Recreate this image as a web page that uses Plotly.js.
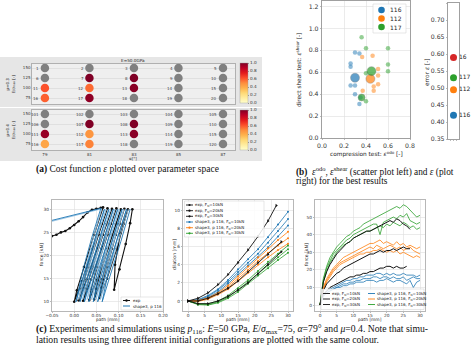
<!DOCTYPE html>
<html><head><meta charset="utf-8">
<script src="https://cdn.plot.ly/plotly-3.0.1.min.js"></script>
<style>html,body{margin:0;padding:0;background:#fff}#chart{width:474px;height:347px}</style>
</head><body><div id="chart"></div>
<script>
// ---------- DATA ----------
// panel (a)
const aAlpha = [79, 81, 83, 85, 87];
const aRatio = [150, 125, 100, 75];
const upperIds = [[1,2,3,4,5],[6,7,8,9,10],[11,12,13,14,15],[16,17,18,19,20]];
const lowerIds = [[101,102,103,104,105],[106,107,108,109,110],[111,112,113,114,115],[116,117,118,119,120]];
const upperErr = [[null,null,null,null,null],[null,1.0,1.0,null,null],[0.62,0.57,0.98,null,null],[0.59,0.97,null,null,null]];
const lowerErr = [[null,null,null,null,null],[null,1.0,1.0,null,null],[0.95,0.47,0.98,null,null],[0.42,0.52,null,null,null]];
const cbTicks = [0, 0.2, 0.4, 0.6, 0.8, 1.0];

// panel (b) scatter
const b116x = [0.26,0.26,0.30,0.34,0.26,0.30,0.30,0.34,0.35];
const b116y = [0.68,0.65,0.78,0.77,0.48,0.48,0.40,0.31,0.37];
const b112x = [0.365,0.46,0.37,0.47,0.47,0.51,0.51,0.51];
const b112y = [0.74,0.75,0.43,0.47,0.43,0.57,0.63,0.49];
const b117x = [0.36,0.40,0.60,0.60,0.60,0.40,0.40];
const b117y = [0.92,0.82,0.82,0.67,0.61,0.59,0.335];
const bBestX = [0.30,0.44,0.45,0.36];
const bBestY = [0.55,0.54,0.61,0.37];
const bBestSize = [9,9,9,7];
const bBestColor = ['#1f77b4','#ff7f0e','#2ca02c','#2ca02c'];
const bLegendNames = ['116','112','117'];
// panel (b) error
const errLabels = ['16','117','112','116'];
const errVals = [0.59,0.53,0.495,0.42];
const errColors = ['#d62728','#2ca02c','#ff7f0e','#1f77b4'];

// panel (c) left: cyclic test
const cycExpX = [-0.05,-0.04,-0.03,-0.02,-0.01,0.00,0.01,0.02,0.03,0.04,0.05,0.06,0.065,
 0.045,0.022,0.006,0.000, 0.018,0.042,0.062,0.075,
 0.055,0.032,0.016,0.010, 0.028,0.052,0.072,0.085,
 0.065,0.042,0.026,0.020, 0.038,0.062,0.082,0.095,
 0.075,0.052,0.038,0.034, 0.052,0.075,0.093,0.105,
 0.085,0.063,0.049,0.045, 0.062,0.085,0.102,0.113,
 0.094,0.074,0.061,0.057, 0.074,0.096,0.111,0.121,
 0.104,0.092,0.090, 0.102,0.116,0.126,0.131];
const cycExpF = [24.2,24.5,25.0,25.3,25.9,26.6,27.4,28.3,29.3,29.9,30.1,30.3,30.4,
 24.5,17.5,12.5,10.0, 14.5,21.5,26.8,30.2,
 24.5,17.5,12.8,10.3, 14.8,21.5,26.8,30.1,
 24.5,17.5,12.8,10.2, 14.8,21.5,26.8,30.2,
 24.5,17.5,12.8,10.4, 14.8,21.5,26.8,30.0,
 24.5,17.5,12.8,10.5, 14.8,21.5,26.8,30.1,
 24.5,17.5,13.0,10.8, 15.0,21.5,26.8,30.0,
 24.8,18.0,12.6, 17.0,22.5,27.0,30.0];
const cycSim1X = [-0.05,0.060,
 0.040,0.020,0.004, 0.022,0.045,0.068,
 0.048,0.028,0.013, 0.032,0.055,0.078,
 0.058,0.038,0.023, 0.042,0.065,0.088,
 0.068,0.048,0.033, 0.052,0.075,0.098,
 0.078,0.058,0.043, 0.062,0.085,0.108,
 0.088,0.068,0.053, 0.072,0.095,0.118,
 0.098,0.078,0.063, 0.082,0.105,0.126];
const cycSim1F = [27.6,30.2,
 24,17,10, 16,23,30,
 24,17,10, 16,23,30,
 24,17,10, 16,23,30,
 24,17,10, 16,23,30,
 24,17,10, 16,23,30,
 24,17,10, 16,23,30,
 24,17,10, 16,23,30];
const cycSim2X = [-0.05,0.062,
 0.045,0.026,0.010, 0.028,0.050,0.072,
 0.053,0.034,0.019, 0.038,0.060,0.082,
 0.063,0.044,0.029, 0.048,0.070,0.092,
 0.073,0.054,0.039, 0.058,0.080,0.102,
 0.083,0.064,0.049, 0.068,0.090,0.112,
 0.093,0.074,0.059, 0.078,0.100,0.122];
const cycSim2F = [27.4,30.1,
 24.5,17.5,10.5, 16.5,23.5,30,
 24.5,17.5,10.5, 16.5,23.5,30,
 24.5,17.5,10.5, 16.5,23.5,30,
 24.5,17.5,10.5, 16.5,23.5,30,
 24.5,17.5,10.5, 16.5,23.5,30,
 24.5,17.5,10.5, 16.5,23.5,30];

// panel (c) middle: dilation
const dilX10 = [0,3,6,9,12,15,18,21,24,26.5];
const dilExp10 = [0,0.3,0.9,1.8,2.9,4.2,5.6,7.1,8.8,10.5];
const dilXexp = [0,3,6,9,12,15,18,21,24,28];
const dilExp20 = [0,0.0,0.3,0.8,1.4,2.2,3.2,4.2,5.1,6.5];
const dilExp30 = [0,-0.3,-0.3,0.0,0.5,1.2,2.0,3.0,4.0,5.4];
const dilX = [0,3,6,9,12,15,18,21,24,27,30];
const dilB1 = [0,0.15,0.6,1.3,2.3,3.5,4.6,5.7,7.0,8.4,9.8];
const dilB2 = [0,0.1,0.5,1.2,2.1,3.2,4.2,5.2,6.4,7.7,9.0];
const dilB3 = [0,0.05,0.4,1.0,1.9,2.9,3.9,4.8,5.9,7.1,8.3];
const dilO1 = [0,0.05,0.35,0.9,1.7,2.7,3.8,4.8,5.8,6.7,7.6];
const dilO2 = [0,0.0,0.3,0.8,1.5,2.4,3.4,4.4,5.3,6.1,6.9];
const dilO3 = [0,-0.05,0.2,0.7,1.3,2.2,3.1,4.0,4.8,5.6,6.3];
const dilG1 = [0,-0.3,-0.3,0.0,0.6,1.4,2.3,3.3,4.3,5.2,6.1];
const dilG2 = [0,-0.35,-0.4,-0.1,0.4,1.2,2.1,3.0,3.9,4.8,5.7];
const dilG3 = [0,-0.4,-0.45,-0.2,0.3,1.0,1.9,2.8,3.6,4.5,5.3];

// panel (c) right: force vs path
const fX = [0,0.5,1,2,3,4,5,6,7,8,9,10,11,12,13,14,15,16,17,18,19,20,21,22,23,24,25,26,27,28,29,30];
const fG1 = [0,9,15,22,27,30,33,35,37,39,40,42,43,44,46,47,48,49,50,51,52,53,54,55,56,55,57,56,54,52,50,51];
const fG2 = [0,8,14,21,25,29,31,33,35,37,38,40,41,42,43,44,45,46,46,40,47,48,49,50,49,51,50,52,48,47,46,47];
const fG3 = [0,7,13,19,24,27,30,32,34,35,36,38,39,40,41,42,42,43,44,45,44,46,45,47,46,45,47,46,44,45,43,44];
const fO1 = [0,6,10,15,18,21,23,25,27,28,29,30,31,32,33,34,35,35,36,37,35,36,35,34,36,34,35,33,34,33,32,33];
const fO2 = [0,5,9,14,17,20,22,24,25,26,27,28,29,30,31,32,33,32,34,33,32,33,34,33,32,33,31,32,33,31,30,29];
const fO3 = [0,5,9,13,16,19,21,23,24,25,26,27,28,29,29,30,30,31,31,32,31,30,31,30,31,29,30,29,28,27,28,27];
const fB1 = [0,4,6,8,9,10,11,12,13,14,14,15,15,16,16,17,17,17,18,18,17,18,17,18,17,17,18,17,17,17,16,17];
const fB2 = [0,3,5,7,8,9,10,11,12,12,13,13,14,14,15,15,15,16,16,15,16,16,15,16,15,15,16,14,15,16,15,15];
const fB3 = [0,3,5,7,8,9,10,10,11,11,12,12,13,13,13,14,14,14,13,14,14,15,14,13,14,14,13,12,14,10,13,14];
const fXexp10 = [0,0.5,1,2,3,4,5,6,7,8,9,10,11,12,13,14,15,16,17,18,19,20,21,22,23,24,25,26];
const fExp10 = [0,4,6,8,10,11,12,13,14,15,16,16,17,17,18,18,19,19,20,21,21,22,22,21,22,21,21,22];
const fXexp = [0,0.5,1,2,3,4,5,6,7,8,9,10,11,12,13,14,15,16,17,18,19,20,21,22,23,24,25,26,27];
const fExp20 = [0,5,8,12,14,16,18,19,21,22,23,24,25,26,27,28,29,29,30,31,30,31,31,32,31,32,33,32,32];
const fExp30 = [0,8,13,19,23,26,29,31,33,35,36,38,39,40,41,42,42,43,44,45,46,47,48,47,49,48,46,45,43];

const midLegend = ['exp, F<sub>N</sub>=10kN','exp, F<sub>N</sub>=20kN','exp, F<sub>N</sub>=30kN',
  'shape3, p 116, F<sub>N</sub>=10kN','shape3, p 116, F<sub>N</sub>=20kN','shape3, p 116, F<sub>N</sub>=30kN'];
const cycLegend = ['exp','shape3, p 116'];

// ---------- STYLE ----------
const W = 474, H = 347;
const fx = p => p / W, fy = p => 1 - p / H;
const SANS = 'DejaVu Sans', SERIF = 'Liberation Serif';
const BLUE = '#1f77b4', ORANGE = '#ff7f0e', GREEN = '#2ca02c', RED = '#d62728';
const YLORRD = [[0,'#ffffcc'],[0.125,'#ffeda0'],[0.25,'#fed976'],[0.375,'#feb24c'],[0.5,'#fd8d3c'],[0.625,'#fc4e2a'],[0.75,'#e31a1c'],[0.875,'#bd0026'],[1,'#800026']];

function axBase(extra){
  return Object.assign({showline:true, mirror:true, linecolor:'#999', linewidth:0.7,
    ticks:'outside', ticklen:1.5, tickwidth:0.5, tickcolor:'#777',
    showgrid:true, gridcolor:'#dedede', gridwidth:0.6, zeroline:false,
    tickfont:{family:SANS, size:4.3, color:'#333'}, automargin:false, fixedrange:true}, extra);
}
function xax(l, r, range, anchor, extra){ return axBase(Object.assign({domain:[fx(l), fx(r)], range, anchor}, extra)); }
function yax(t, b, range, anchor, extra){ return axBase(Object.assign({domain:[fy(b), fy(t)], range, anchor}, extra)); }

const shapes = [], annotations = [];

// ---------- TRACES ----------
const traces = [];
function gridTraces(ids, errs, xa, ya, cbTop){
  const gx=[],gy=[],cx=[],cy=[],cv=[];
  aRatio.forEach((rv, r) => aAlpha.forEach((av, c) => {
    const e = errs[r][c];
    if (e === null) { gx.push(av); gy.push(rv); }
    else { cx.push(av); cy.push(rv); cv.push(e); }
    annotations.push({xref:xa, yref:ya, x:av, y:rv, text:String(ids[r][c]), showarrow:false,
      xanchor:'right', yanchor:'middle', xshift:-4.5, borderpad:0,
      font:{family:SANS, size:4, color:'#444'}});
  }));
  traces.push({type:'scatter', mode:'markers', x:gx, y:gy,
    marker:{size:8.5, color:'#808080'}, xaxis:xa, yaxis:ya, showlegend:false, cliponaxis:false});
  traces.push({type:'scatter', mode:'markers', x:cx, y:cy,
    xaxis:xa, yaxis:ya, showlegend:false, cliponaxis:false,
    marker:{size:8.5, color:cv, colorscale:YLORRD, cmin:0, cmax:1, showscale:true,
      colorbar:{x:fx(240), xanchor:'left', y:fy(cbTop), yanchor:'top', len:40, lenmode:'pixels',
        thickness:8, thicknessmode:'pixels', xpad:0, ypad:0, outlinewidth:0.4, outlinecolor:'#999',
        tickvals:cbTicks, tickformat:'.1f', ticks:'outside', ticklen:1.5, tickwidth:0.5,
        tickfont:{family:SANS, size:4.2, color:'#333'}}}});
}
gridTraces(upperIds, upperErr, 'x', 'y', 63);
gridTraces(lowerIds, lowerErr, 'x2', 'y2', 110);

// panel b scatter
[[b116x,b116y,BLUE],[b112x,b112y,ORANGE],[b117x,b117y,GREEN]].forEach(([x,y,c]) => {
  traces.push({type:'scatter', mode:'markers', x, y, xaxis:'x3', yaxis:'y3', showlegend:false,
    marker:{size:4.5, color:c, opacity:0.5}});
});
traces.push({type:'scatter', mode:'markers', x:bBestX, y:bBestY, xaxis:'x3', yaxis:'y3', showlegend:false,
  marker:{size:bBestSize, color:bBestColor, line:{width:0.4, color:'#555'}}});
// panel b error
traces.push({type:'scatter', mode:'markers+text', x:errVals.map(() => 0), y:errVals, text:errLabels,
  textposition:'middle right', textfont:{family:SANS, size:6, color:'#222'}, cliponaxis:false,
  xaxis:'x4', yaxis:'y4', showlegend:false, marker:{size:7, color:errColors}});

// panel c left
traces.push({type:'scatter', mode:'lines+markers', x:cycExpX, y:cycExpF, xaxis:'x5', yaxis:'y5', showlegend:false,
  line:{color:'#111', width:1.1}, marker:{size:2.6, color:'#111'}});
traces.push({type:'scatter', mode:'lines', x:cycSim2X, y:cycSim2F, xaxis:'x5', yaxis:'y5', showlegend:false,
  line:{color:'#8cbde0', width:0.9}});
traces.push({type:'scatter', mode:'lines', x:cycSim1X, y:cycSim1F, xaxis:'x5', yaxis:'y5', showlegend:false,
  line:{color:BLUE, width:0.9}});

// panel c middle
[[dilB1,BLUE],[dilB2,BLUE],[dilB3,BLUE],[dilO1,ORANGE],[dilO2,ORANGE],[dilO3,ORANGE],[dilG1,GREEN],[dilG2,GREEN],[dilG3,GREEN]].forEach(([y,c]) => {
  traces.push({type:'scatter', mode:'lines+markers', x:dilX, y, xaxis:'x6', yaxis:'y6', showlegend:false,
    line:{color:c, width:0.8}, marker:{size:2, color:c}});
});
[[dilX10,dilExp10],[dilXexp,dilExp20],[dilXexp,dilExp30]].forEach(([x,y]) => {
  traces.push({type:'scatter', mode:'lines+markers', x, y, xaxis:'x6', yaxis:'y6', showlegend:false,
    line:{color:'#111', width:0.9}, marker:{size:3, color:'#111', symbol:'triangle-right'}});
});

// panel c right
[[fB1,BLUE],[fB2,BLUE],[fB3,BLUE],[fO1,ORANGE],[fO2,ORANGE],[fO3,ORANGE],[fG1,GREEN],[fG2,GREEN],[fG3,GREEN]].forEach(([y,c]) => {
  traces.push({type:'scatter', mode:'lines', x:fX, y, xaxis:'x7', yaxis:'y7', showlegend:false,
    line:{color:c, width:0.8}});
});
[[fXexp10,fExp10],[fXexp,fExp20],[fXexp,fExp30]].forEach(([x,y]) => {
  traces.push({type:'scatter', mode:'lines', x, y, xaxis:'x7', yaxis:'y7', showlegend:false,
    line:{color:'#111', width:1}});
});

// ---------- SHAPES & ANNOTATIONS ----------
function rectPx(l, t, r, b, fill, line){
  shapes.push({type:'rect', xref:'paper', yref:'paper', x0:fx(l), x1:fx(r), y0:fy(b), y1:fy(t),
    fillcolor:fill, line:line || {width:0}, layer:'below'});
}
function lineAbove(x0, x1, y, color, w){
  shapes.push({type:'line', xref:'paper', yref:'paper', x0:fx(x0), x1:fx(x1), y0:fy(y), y1:fy(y),
    line:{color, width:w}, layer:'above'});
}
function boxAbove(l, t, r, b){
  shapes.push({type:'rect', xref:'paper', yref:'paper', x0:fx(l), x1:fx(r), y0:fy(b), y1:fy(t),
    fillcolor:'rgba(255,255,255,0.85)', line:{color:'#cccccc', width:0.5}, layer:'above'});
}
function dot(cx, cy, r, color, op){
  shapes.push({type:'circle', xref:'paper', yref:'paper', x0:fx(cx-r), x1:fx(cx+r), y0:fy(cy+r), y1:fy(cy-r),
    fillcolor:color, opacity:op || 1, line:{width:0}, layer:'above'});
}
function txt(x, y, text, size, opts){
  annotations.push(Object.assign({xref:'paper', yref:'paper', x:fx(x), y:fy(y), text, showarrow:false,
    font:{family:SANS, size, color:'#222'}, xanchor:'center', yanchor:'middle', borderpad:0}, opts || {}));
}

// panel a backgrounds
rectPx(0, 57, 262, 107, '#e6e6e6');
rectPx(0, 108, 262, 161, '#e6e6e6');
rectPx(32, 64, 235, 104, '#efefef');
rectPx(32, 110, 235, 150, '#efefef');

// panel a labels
txt(133, 60.5, 'E=50.0GPa', 4.2);
txt(6.5, 84, 'μ=0.3', 4, {textangle:-90});
txt(13.5, 84, 'E/σ<sub>max</sub> [-]', 4, {textangle:-90});
txt(6.5, 130, 'μ=0.4', 4, {textangle:-90});
txt(13.5, 130, 'E/σ<sub>max</sub> [-]', 4, {textangle:-90});
txt(133, 158, 'α[°]', 4);

// panel b labels
txt(298, 70, 'direct shear test: <i>ε</i><sup>shear</sup> [-]', 5.8, {textangle:-90});
txt(366, 154, 'compression test: <i>ε</i><sup>odo</sup> [-]', 5.8);
txt(427, 72, 'error <i>ε</i> [-]', 5.8, {textangle:-90});
// panel b legend
boxAbove(373, 4, 406, 33);
[[10,BLUE],[18.5,ORANGE],[27,GREEN]].forEach(([y,c], i) => {
  dot(381.5, y, 3.3, c);
  txt(389, y, bLegendNames[i], 6, {xanchor:'left'});
});

// panel c axis titles
txt(41, 255, 'force [kN]', 4.6, {textangle:-90});
txt(108, 319.8, 'path [mm]', 4.4);
txt(174, 255, 'dilation [mm]', 4.6, {textangle:-90});
txt(238, 319.8, 'path [mm]', 4.4);
txt(306, 255, 'force [kN]', 4.6, {textangle:-90});
txt(370, 319.8, 'path [mm]', 4.4);

// panel c legends
boxAbove(121, 297, 163, 310);
lineAbove(123, 130, 300.5, '#111', 1); dot(126.5, 300.5, 1.2, '#111');
txt(131.5, 300.5, cycLegend[0], 4, {xanchor:'left'});
lineAbove(123, 130, 306, BLUE, 1);
txt(131.5, 306, cycLegend[1], 4, {xanchor:'left'});

boxAbove(184.5, 201, 264, 237);
const midRows = [205, 210.7, 216.3, 222, 227.7, 233.3];
const midCols = ['#111','#111','#111',BLUE,ORANGE,GREEN];
midRows.forEach((y, i) => {
  lineAbove(186, 193, y, midCols[i], 0.9); dot(189.5, y, 1.1, midCols[i]);
  txt(194, y, midLegend[i], 4, {xanchor:'left'});
});

boxAbove(321, 289, 424, 309.5);
[293.5, 299, 304.5].forEach((y, i) => {
  lineAbove(323, 330, y, '#111', 0.9);
  txt(331, y, midLegend[i], 4, {xanchor:'left'});
  lineAbove(368, 375, y, midCols[i+3], 0.9);
  txt(376, y, midLegend[i+3], 4, {xanchor:'left'});
});

// captions
const capFont = s => ({family:SERIF, size:s, color:'#111'});
txt(127, 170, '<b>(a)</b> Cost function <i>ε</i> plotted over parameter space', 9.5, {font:capFont(9.5)});
txt(295, 171, '<b>(b)</b>  <i>ε</i><sup>odo</sup>, <i>ε</i><sup>shear</sup> (scatter plot left) and <i>ε</i> (plot', 9.3, {font:capFont(9.3), xanchor:'left'});
txt(295, 181, 'right) for the best results', 9.3, {font:capFont(9.3), xanchor:'left'});
txt(35, 328.5, '<b>(c)</b> Experiments and simulations using <i>p</i><sub>116</sub>: <i>E</i>=50 GPa, <i>E</i>/<i>σ</i><sub>max</sub>=75, <i>α</i>=79° and <i>μ</i>=0.4. Note that simu-', 9.7, {font:capFont(9.7), xanchor:'left'});
txt(35, 339, 'lation results using three different initial configurations are plotted with the same colour.', 9.7, {font:capFont(9.7), xanchor:'left'});

// ---------- LAYOUT ----------
const aTick = {family:SANS, size:4, color:'#333'};
const cx = {ticklabelstandoff:-1};
const layout = {
  width:W, height:H, margin:{l:0, r:0, t:0, b:0, pad:0},
  paper_bgcolor:'#ffffff', plot_bgcolor:'rgba(0,0,0,0)', showlegend:false,
  font:{family:SANS},
  xaxis: xax(32, 235, [78.42, 87.54], 'y', {tickvals:aAlpha, showticklabels:false, showgrid:false, ticks:'', tickfont:aTick}),
  yaxis: yax(64, 104, [60, 160], 'x', {tickvals:aRatio, ticks:'', tickfont:aTick, gridcolor:'#d6d6d6'}),
  xaxis2: xax(32, 235, [78.42, 87.54], 'y2', {tickvals:aAlpha, showgrid:false, ticks:'', tickfont:aTick}),
  yaxis2: yax(110, 150, [60, 160], 'x2', {tickvals:aRatio, ticks:'', tickfont:aTick, gridcolor:'#d6d6d6'}),
  xaxis3: xax(322, 410, [0, 0.8], 'y3', {tickvals:[0,0.2,0.4,0.6,0.8], tickformat:'.1f', tickfont:{family:SANS, size:6.2, color:'#333'}, linecolor:'#777'}),
  yaxis3: yax(1, 138, [0, 1.25], 'x3', {tickvals:[0,0.2,0.4,0.6,0.8,1.0,1.2], tickformat:'.1f', tickfont:{family:SANS, size:6.2, color:'#333'}, linecolor:'#777'}),
  xaxis4: xax(448, 459, [-1, 1], 'y4', {tickvals:[-0.6,0,0.6], showticklabels:false, showgrid:false, linecolor:'#777'}),
  yaxis4: yax(3, 139, [0.35, 0.75], 'x4', {tickvals:[0.35,0.4,0.45,0.5,0.55,0.6,0.65,0.7,0.75], tickformat:'.2f', showgrid:false, tickfont:{family:SANS, size:6.2, color:'#333'}, linecolor:'#777'}),
  xaxis5: xax(52, 163, [-0.05, 0.2], 'y5', Object.assign({tickvals:[-0.05,0,0.05,0.1,0.15,0.2], ticktext:['−0.05','0.00','0.05','0.10','0.15','0.20']}, cx)),
  yaxis5: yax(200, 311, [8, 32], 'x5', {tickvals:[10,15,20,25,30]}),
  xaxis6: xax(183, 293, [-1.5, 31.5], 'y6', Object.assign({tickvals:[0,5,10,15,20,25,30]}, cx)),
  yaxis6: yax(200, 311, [-1.1, 11.1], 'x6', {tickvals:[0,2,4,6,8,10]}),
  xaxis7: xax(315, 425, [-1.5, 31.5], 'y7', Object.assign({tickvals:[0,5,10,15,20,25,30]}, cx)),
  yaxis7: yax(200, 311, [-3.4, 59.7], 'x7', {tickvals:[0,10,20,30,40,50]}),
  shapes, annotations
};

Plotly.newPlot('chart', traces, layout, {staticPlot:true, displayModeBar:false});
</script></body></html>
